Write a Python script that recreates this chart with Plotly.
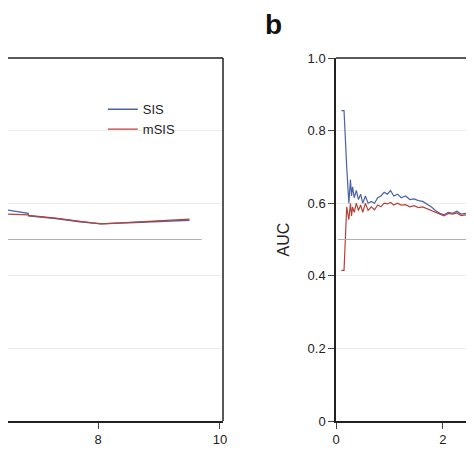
import plotly.graph_objects as go

# panel a (only right part visible)
a_x = [6.52, 6.7, 6.85, 6.86, 7.3, 7.7, 8.05, 8.6, 9.1, 9.5]
a_sis = [0.581, 0.576, 0.572, 0.565, 0.558, 0.549, 0.543, 0.547, 0.551, 0.553]
a_msis = [0.570, 0.569, 0.568, 0.566, 0.559, 0.550, 0.543, 0.548, 0.552, 0.556]

# panel b
b_x = [0.10, 0.15, 0.20, 0.24, 0.27, 0.29, 0.31, 0.34, 0.38, 0.42, 0.46, 0.50, 0.55, 0.60,
       0.66, 0.72, 0.78, 0.84, 0.90, 0.96, 1.02, 1.08, 1.15, 1.22, 1.30, 1.38, 1.46, 1.54,
       1.62, 1.70, 1.78, 1.86, 1.94, 2.02, 2.10, 2.18, 2.26, 2.34, 2.42, 2.50, 2.58, 2.66, 2.73]
b_sis = [0.855, 0.855, 0.70, 0.60, 0.665, 0.62, 0.645, 0.615, 0.635, 0.61, 0.625, 0.60, 0.62,
         0.60, 0.605, 0.60, 0.615, 0.62, 0.63, 0.625, 0.635, 0.62, 0.625, 0.615, 0.62, 0.61,
         0.612, 0.607, 0.605, 0.598, 0.59, 0.58, 0.572, 0.568, 0.575, 0.572, 0.578, 0.570,
         0.572, 0.568, 0.572, 0.575, 0.583]
b_msis = [0.415, 0.415, 0.59, 0.555, 0.60, 0.565, 0.59, 0.575, 0.60, 0.58, 0.595, 0.575, 0.60,
          0.58, 0.59, 0.582, 0.595, 0.59, 0.60, 0.598, 0.602, 0.595, 0.60, 0.595, 0.596, 0.59,
          0.593, 0.588, 0.590, 0.585, 0.580, 0.575, 0.568, 0.565, 0.572, 0.570, 0.573, 0.566,
          0.568, 0.562, 0.566, 0.570, 0.575]

blue = "#4c62a8"
red = "#b8423a"
font = dict(family="Liberation Sans, Arial", size=13, color="#222")

fig = go.Figure()
fig.add_trace(go.Scatter(x=a_x, y=a_sis, mode="lines", line=dict(color=blue, width=1.4),
                         name="SIS", xaxis="x", yaxis="y"))
fig.add_trace(go.Scatter(x=a_x, y=a_msis, mode="lines", line=dict(color=red, width=1.4),
                         name="mSIS", xaxis="x", yaxis="y"))
fig.add_trace(go.Scatter(x=b_x, y=b_sis, mode="lines", line=dict(color=blue, width=1.2),
                         showlegend=False, xaxis="x2", yaxis="y2"))
fig.add_trace(go.Scatter(x=b_x, y=b_msis, mode="lines", line=dict(color=red, width=1.2),
                         showlegend=False, xaxis="x2", yaxis="y2"))

grid = dict(showgrid=True, gridcolor="#ececec", gridwidth=1, zeroline=False, automargin=False)
fig.update_layout(
    width=474, height=474, plot_bgcolor="white", paper_bgcolor="white", font=font,
    margin=dict(l=0, r=0, t=50, b=61, pad=0),
    xaxis=dict(domain=[0, 0.4536], range=[6.52, 10.05], tickvals=[8, 10], ticks="outside",
               ticklen=6, showline=True, linecolor="#222", linewidth=1.5, showgrid=False,
               zeroline=False, automargin=False),
    yaxis=dict(range=[0, 1], tickvals=[0.2, 0.4, 0.6, 0.8], showticklabels=False, **grid),
    xaxis2=dict(domain=[0.692, 1], range=[0, 2.73], tickvals=[0, 2], ticks="outside",
                ticklen=6, showline=True, linecolor="#222", linewidth=1.5, showgrid=False,
                zeroline=False, anchor="y2", automargin=False),
    yaxis2=dict(range=[0, 1], tickvals=[0, 0.2, 0.4, 0.6, 0.8, 1.0],
                ticktext=["0", "0.2", "0.4", "0.6", "0.8", "1.0"], ticks="outside", ticklen=6,
                showline=True, linecolor="#222", linewidth=1.5, anchor="x2",
                title=dict(text="AUC", standoff=14), **grid),
    legend=dict(x=0.2, y=0.9, xanchor="left", yanchor="top", bgcolor="rgba(0,0,0,0)",
                font=dict(size=13)),
    shapes=[
        dict(type="line", xref="paper", yref="paper", x0=0, x1=0.4536, y0=1, y1=1,
             line=dict(color="#222", width=1.5)),
        dict(type="line", xref="paper", yref="paper", x0=0.4536, x1=0.4536, y0=0, y1=1,
             line=dict(color="#222", width=1.5)),
        dict(type="line", xref="paper", yref="paper", x0=0.692, x1=1, y0=1, y1=1,
             line=dict(color="#222", width=1.5)),
        dict(type="line", xref="x", yref="y", x0=6.52, x1=9.7, y0=0.5, y1=0.5,
             line=dict(color="#b0b0b0", width=1.2)),
        dict(type="line", xref="x2", yref="y2", x0=0.03, x1=2.73, y0=0.5, y1=0.5,
             line=dict(color="#b0b0b0", width=1.2)),
    ],
    annotations=[
        dict(text="<b>b</b>", xref="paper", yref="paper", x=0.56, y=1.093, showarrow=False,
             font=dict(size=28, color="#111"), xanchor="center", yanchor="middle"),
    ],
)
fig.write_html("out.html")
